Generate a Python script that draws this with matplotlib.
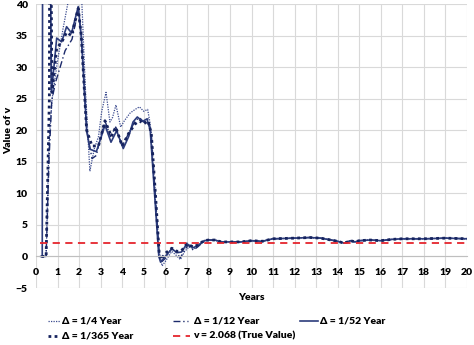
import numpy as np
import matplotlib
matplotlib.use("Agg")
import matplotlib.pyplot as plt
from matplotlib.lines import Line2D

plt.rcParams['font.family'] = ['Lato', 'DejaVu Sans']
plt.rcParams['font.weight'] = 'heavy'

# === Data ===
tail_x = [8.0, 8.3, 8.6, 9.0, 9.5, 10.0, 10.5, 11.0, 12.0, 12.7, 13.2, 13.7,
          14.0, 14.3, 14.6, 14.8, 15.0, 15.5, 16.0, 16.5, 17.0, 18.0, 19.0, 20.0]
tail_v = [2.6, 2.6, 2.3, 2.3, 2.3, 2.5, 2.4, 2.8, 2.9, 3.0, 2.9, 2.6,
          2.4, 2.1, 2.5, 2.3, 2.5, 2.6, 2.5, 2.7, 2.8, 2.8, 2.9, 2.8]

# delta = 1/4 year
q_x = [0.25, 0.47, 0.6, 0.75, 1.0, 1.25, 1.5, 1.75, 2.0, 2.13, 2.3, 2.5, 2.7,
       2.9, 3.05, 3.25, 3.43, 3.55, 3.71, 3.93, 4.1, 4.36, 4.6, 4.8, 5.0,
       5.18, 5.3, 5.5, 5.7, 5.85, 6.0, 6.3, 6.5, 6.7, 6.9, 7.1, 7.3, 7.5, 7.8]
q_v = [0.0, 0.0, 18.0, 25.0, 31.0, 36.0, 40.5, 44.0, 43.0, 40.0, 26.0, 13.5, 17.0,
       19.0, 23.0, 26.0, 21.3, 22.0, 24.0, 20.5, 21.5, 22.7, 23.3, 23.7, 23.0,
       23.3, 21.0, 11.0, 1.0, -1.5, -0.8, 0.8, 0.2, -0.5, 0.8, 1.5, 1.2, 1.6, 2.4]

# delta = 1/12 year
m_x = [0.25, 0.47, 0.6, 0.73, 0.9, 1.12, 1.35, 1.67, 1.96, 2.1, 2.35, 2.6,
       2.8, 3.0, 3.2, 3.45, 3.7, 4.0, 4.3, 4.6, 4.8, 5.0, 5.2, 5.35, 5.55,
       5.72, 5.85, 6.0, 6.3, 6.5, 6.7, 6.9, 7.05, 7.3, 7.5, 7.8]
m_v = [0.0, 0.0, 15.0, 24.7, 27.5, 30.0, 32.6, 34.4, 39.0, 35.0, 20.0, 15.5,
       16.0, 19.0, 21.5, 19.0, 20.5, 17.5, 19.5, 21.5, 22.0, 21.3, 21.8, 19.5, 9.0,
       0.5, -0.8, -0.3, 1.3, 0.6, -0.2, 1.0, 1.8, 1.0, 1.5, 2.4]

# delta = 1/52 year
w_x = [0.22, 0.29, 0.31, 0.64, 0.72, 0.96, 1.19, 1.42, 1.65, 1.96, 2.1, 2.35,
       2.5, 2.8, 3.05, 3.2, 3.48, 3.74, 4.05, 4.3, 4.5, 4.7, 4.95, 5.15, 5.3,
       5.5, 5.7, 5.78, 6.0, 6.3, 6.55, 6.75, 7.0, 7.3, 7.5, 7.8]
w_v = [0.0, 0.0, 60.0, 60.0, 26.0, 34.6, 34.0, 36.4, 35.4, 39.6, 35.0, 20.0,
       17.0, 16.6, 19.2, 20.8, 18.1, 19.9, 17.1, 19.0, 21.3, 22.1, 21.4, 21.8, 20.0,
       10.0, 0.0, -0.9, 0.0, 1.2, 0.6, 0.7, 2.0, 1.4, 1.7, 2.5]

# delta = 1/365 year
d_x = [0.25, 0.47, 0.62, 0.64, 0.67, 0.74, 0.96, 1.2, 1.42, 1.65, 1.96, 2.1,
       2.35, 2.6, 2.9, 3.2, 3.5, 3.7, 4.0, 4.3, 4.6, 4.8, 5.0, 5.2, 5.35, 5.55,
       5.72, 5.8, 6.0, 6.3, 6.55, 6.75, 7.0, 7.3, 7.5, 7.8]
d_v = [0.0, 0.0, 25.0, 60.0, 60.0, 26.0, 33.0, 34.0, 35.5, 35.0, 39.3, 35.0,
       20.0, 17.5, 17.5, 21.5, 19.0, 20.5, 17.5, 19.5, 21.0, 21.5, 21.0, 21.5, 19.5, 9.5,
       0.3, -0.5, 0.5, 1.3, 0.8, 0.9, 2.0, 1.5, 1.8, 2.5]

true_v = 2.068

# === Styles ===
W, H = 474, 345
styles = {
    'q': dict(color='#3b4b8f', lw=0.9, ls=(0, (1, 1))),
    'm': dict(color='#1c2a6b', lw=1.0, ls=(0, (5, 2, 1, 2))),
    'w': dict(color='#2c3c7c', lw=1.2, ls='-'),
    'd': dict(color='#16235e', lw=2.0, ls=(0, (1, 1.2))),
    't': dict(color='#e5252d', lw=1.3, ls=(0, (4, 3))),
}

fig = plt.figure(figsize=(W / 100, H / 100), dpi=100)
ax = fig.add_axes([36 / W, 1 - 288 / H, 431 / W, 284 / H])

ax.plot(q_x + tail_x, q_v + tail_v, **styles['q'])
ax.plot(m_x + tail_x, m_v + tail_v, **styles['m'])
ax.plot(w_x + tail_x, w_v + tail_v, **styles['w'])
ax.plot(d_x + tail_x, d_v + tail_v, **styles['d'])
ax.plot([0.2, 20], [true_v, true_v], **styles['t'])

ax.set_xlim(0, 20)
ax.set_ylim(-5, 40)
ax.set_xticks(np.arange(0, 21, 1))
ax.set_yticks(np.arange(-5, 41, 5))
ax.grid(True, color='#d9d9d9', lw=0.8)
ax.set_axisbelow(True)
for s in ['top', 'right', 'left']:
    ax.spines[s].set_visible(False)
ax.spines['bottom'].set_position(('data', 0))
ax.spines['bottom'].set_color('#bfbfbf')
ax.tick_params(axis='both', length=0, labelsize=7.5)
ax.tick_params(axis='x', pad=8)
ax.tick_params(axis='y', pad=6)

ax.text(10, -6.5, 'Years', ha='center', va='center', fontsize=7.5, fontweight='heavy')
fig.text(0.019, 0.623, 'Value of v', rotation=90, ha='center', va='center',
         fontsize=7.5, fontweight='heavy')

# === Legend (Excel-style, laid out by hand) ===
legend_items = [
    ('q', 'Δ = 1/4 Year', 48, 60, 62, 321),
    ('m', 'Δ = 1/12 Year', 173, 188, 194, 321),
    ('w', 'Δ = 1/52 Year', 300, 318, 320, 321),
    ('d', 'Δ = 1/365 Year', 48, 60, 62, 336),
    ('t', 'v = 2.068 (True Value)', 173, 190, 193, 336),
]
for key, label, hx0, hx1, tx, y in legend_items:
    fig.add_artist(Line2D([hx0 / W, hx1 / W], [1 - y / H, 1 - y / H], **styles[key]))
    fig.text(tx / W, 1 - y / H, label, ha='left', va='center',
             fontsize=7.5, fontweight='heavy')

fig.savefig('out.png', dpi=100)
